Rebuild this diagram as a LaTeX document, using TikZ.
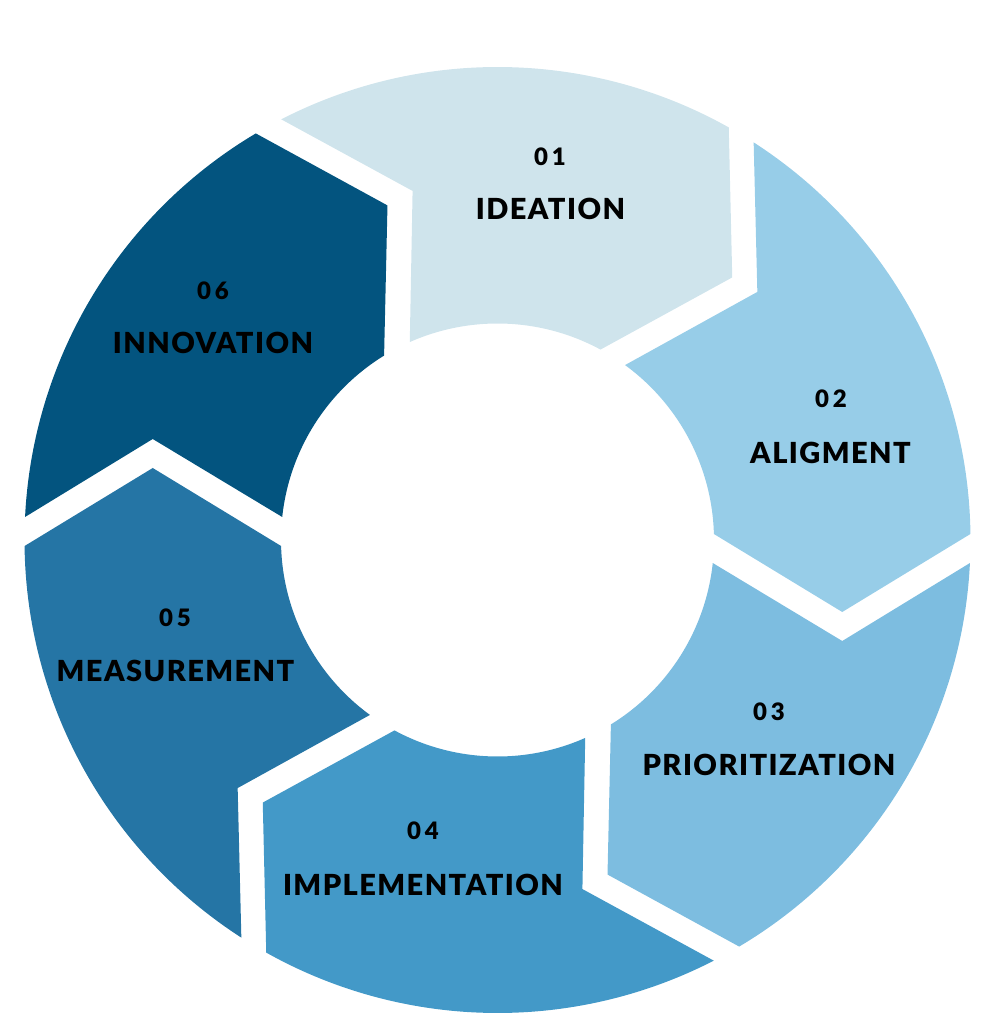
\documentclass[tikz,border=0pt]{standalone}
\usepackage{fontspec}
\setmainfont{Lato}
\usepackage{tikz}
\definecolor{blue1}{HTML}{CFE4EC}
\definecolor{blue2}{HTML}{97CDE8}
\definecolor{blue3}{HTML}{7DBDE0}
\definecolor{blue4}{HTML}{4399C8}
\definecolor{blue5}{HTML}{2575A5}
\definecolor{blue6}{HTML}{03547F}
\newfontfamily\numfont[LetterSpace=16]{Lato Black}
\newfontfamily\labfont[LetterSpace=5]{Lato Black}
\newcommand{\ringpiece}{(117.21:473) arc[start angle=117.21, end angle=60.73, radius=473] -- (234.73,262.56) -- (61.59:216.5) arc[start angle=61.59, end angle=113.90, radius=216.5] -- (-84.91,349.06) -- cycle}

\begin{document}
\begin{tikzpicture}[x=1pt, y=1pt, align=center,
  num/.style={font=\numfont\fontsize{24}{28}\selectfont},
  lab/.style={font=\labfont\fontsize{29}{35}\selectfont}]
\useasboundingbox (-497.5,-484) rectangle (494.5,540);

\fill[rotate=0, fill=blue1] \ringpiece;
\fill[rotate=-60, fill=blue2] \ringpiece;
\fill[rotate=-120, fill=blue3] \ringpiece;
\fill[rotate=-180, fill=blue4] \ringpiece;
\fill[rotate=-240, fill=blue5] \ringpiece;
\fill[rotate=-300, fill=blue6] \ringpiece;

\node[num] (num01) at (52.5,383) {01};
\node[lab] (lab01) at (53,331.5) {IDEATION};

\node[num] (num02) at (333.5,141) {02};
\node[lab] (lab02) at (333,87.5) {ALIGMENT};

\node[num] (num03) at (271.5,-171.5) {03};
\node[lab] (lab03) at (271.5,-225) {PRIORITIZATION};

\node[num] (num04) at (-74.5,-291) {04};
\node[lab] (lab04) at (-74.5,-345) {IMPLEMENTATION};

\node[num] (num05) at (-322.5,-77.5) {05};
\node[lab] (lab05) at (-322,-131) {MEASUREMENT};

\node[num] (num06) at (-284.5,249.5) {06};
\node[lab] (lab06) at (-284.5,197) {INNOVATION};
\end{tikzpicture}
\end{document}
